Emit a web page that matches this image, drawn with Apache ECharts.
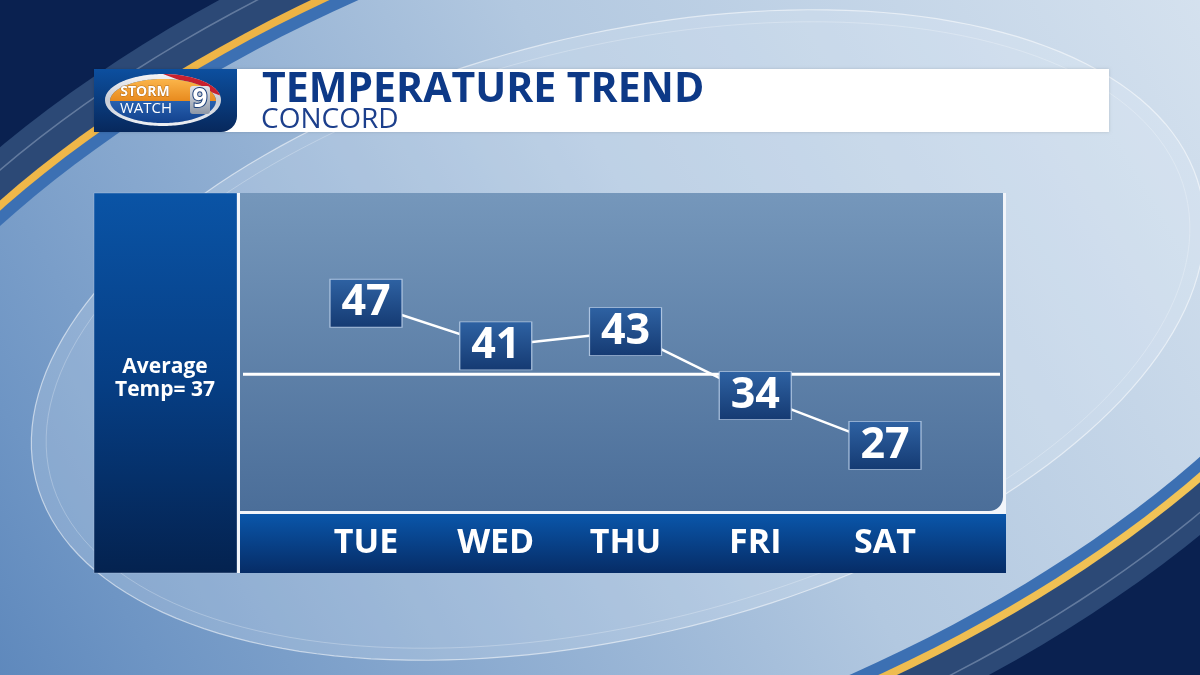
<!DOCTYPE html>
<html>
<head>
<meta charset="utf-8">
<script src="https://cdn.jsdelivr.net/npm/echarts@6/dist/echarts.min.js"></script>
<style>html,body{margin:0;padding:0;background:#0d2450;}#c{width:1200px;height:675px;}</style>
</head>
<body>
<div id="c"></div>
<script>
// ---- data ----
var titleText = 'TEMPERATURE TREND';
var subtitleText = 'CONCORD';
var days = ['TUE', 'WED', 'THU', 'FRI', 'SAT'];
var temps = [47, 41, 43, 34, 27];
var avgTemp = 37;
var avgLabel = 'Average\nTemp= ' + avgTemp;

var FONT = '"Open Sans", "DejaVu Sans", sans-serif';

// decorative ellipse outline helper (background art only)
function ellipsePts(cx, cy, a, b, deg, from, to) {
  var t = deg * Math.PI / 180, pts = [];
  from = from === undefined ? 0 : from; to = to === undefined ? 360 : to;
  for (var i = from; i <= to; i += 2) {
    var p = i * Math.PI / 180;
    var u = a * Math.cos(p), v = b * Math.sin(p);
    pts.push([cx + u * Math.cos(t) - v * Math.sin(t), cy - (u * Math.sin(t) + v * Math.cos(t))]);
  }
  return pts;
}
function ell(cx, cy, a, b, deg, style, z) {
  return { type: 'polygon', z: z, silent: true, shape: { points: ellipsePts(cx, cy, a, b, deg) }, style: style };
}
function lg(x, y, x2, y2, stops) {
  return new echarts.graphic.LinearGradient(x, y, x2, y2, stops.map(function (s) { return { offset: s[0], color: s[1] }; }));
}

var CX = 605, CY = 337, A = 849, B = 425, ROT = 20;

var graphics = [
  { type: 'rect', z: -100, silent: true, shape: { x: 0, y: 0, width: 1200, height: 675 }, style: { fill: '#0a2150' } },
  ell(CX, CY, A + 42, B + 42, ROT, { fill: '#2c4976' }, -99),
  ell(CX, CY, A + 24, B + 24, ROT, { fill: 'none', stroke: 'rgba(200,215,235,0.35)', lineWidth: 1.5 }, -98),
  ell(CX, CY, A, B, ROT, { fill: lg(0, 0, 1, 1, [[0, '#f6c453'], [0.5, '#e6a53a'], [1, '#f9d86a']]) }, -97),
  ell(CX, CY, A - 8, B - 8, ROT, { fill: '#3c70b3' }, -96),
  ell(CX, CY, A - 20, B - 20, ROT, { fill: lg(1, 0, 0, 1, [[0, '#e2ebf4'], [0.45, '#b2c8e0'], [0.8, '#6e95c4'], [1, '#4574b0']]) }, -95),
  ell(618, 335, 600, 300, 14, { fill: 'rgba(230,240,250,0.22)', stroke: 'rgba(255,255,255,0.55)', lineWidth: 1.2 }, -94),
  ell(618, 335, 585, 288, 14, { fill: 'none', stroke: 'rgba(255,255,255,0.25)', lineWidth: 1 }, -94),

  // title banner
  { type: 'rect', z: 1, silent: true, shape: { x: 94, y: 69, width: 1015, height: 63 }, style: { fill: '#ffffff', shadowBlur: 3, shadowColor: 'rgba(0,0,0,0.15)' } },
  { type: 'rect', z: 2, silent: true, shape: { x: 94, y: 69, width: 143, height: 63, r: [0, 0, 16, 0] }, style: { fill: lg(0, 0, 0, 1, [[0, '#0c4f9f'], [1, '#07285c']]) } },
  // logo oval
  ell(163, 100, 58, 26, 0, { fill: lg(0, 0, 0, 1, [[0, '#f4f4f6'], [0.5, '#c7ccd6'], [1, '#eef0f4']]) }, 3),
  { type: 'polygon', z: 3, silent: true, shape: { points: ellipsePts(163, 100, 58, 26, 0, 10, 90) }, style: { fill: '#c8202e' } },
  ell(163, 101, 53, 22, 0, { fill: lg(0, 0, 0, 1, [[0, '#3c7fd0'], [1, '#13428e']]) }, 4),
  { type: 'polygon', z: 5, silent: true, shape: { points: ellipsePts(163, 101, 53, 22, 0, 0, 180) }, style: { fill: lg(0, 0, 0, 1, [[0, '#fbb54a'], [1, '#e88a1e']]) } },
  { type: 'rect', z: 6, silent: true, shape: { x: 190, y: 86, width: 20, height: 28, r: 3 }, style: { fill: lg(0, 0, 0, 1, [[0, '#dfe3ea'], [1, '#8e97a6']]) } },
  { type: 'text', z: 7, silent: true, x: 145, y: 92, style: { text: 'STORM', fill: '#ffffff', font: 'bold 14px ' + FONT, align: 'center', verticalAlign: 'middle', stroke: 'rgba(120,60,0,0.5)', lineWidth: 1 } },
  { type: 'text', z: 7, silent: true, x: 146, y: 109, style: { text: 'WATCH', fill: '#ffffff', font: '15px ' + FONT, align: 'center', verticalAlign: 'middle' } },
  { type: 'text', z: 7, silent: true, x: 200, y: 100, style: { text: '9', fill: '#ffffff', font: 'bold 26px ' + FONT, align: 'center', verticalAlign: 'middle', stroke: '#1b3f7a', lineWidth: 2 } },
  { type: 'text', z: 3, silent: true, x: 262, y: 90, style: { text: titleText, fill: '#0d3987', font: 'bold 41px ' + FONT, align: 'left', verticalAlign: 'middle' } },
  { type: 'text', z: 3, silent: true, x: 261, y: 120, style: { text: subtitleText, fill: '#1c3f8c', font: '28px ' + FONT, align: 'left', verticalAlign: 'middle' } },

  // chart panel
  { type: 'rect', z: -50, silent: true, shape: { x: 94, y: 193, width: 143, height: 380 }, style: { fill: lg(0, 0, 0, 1, [[0, '#0a54a6'], [0.5, '#063e84'], [1, '#04224f']]), stroke: 'rgba(180,200,230,0.4)', lineWidth: 1 } },
  { type: 'rect', z: -50, silent: true, shape: { x: 237, y: 193, width: 769, height: 380 }, style: { fill: '#f2f5fa' } },
  { type: 'rect', z: -49, silent: true, shape: { x: 240, y: 193, width: 763, height: 318, r: [0, 0, 14, 0] }, style: { fill: lg(0, 0, 0, 1, [[0, '#7597bb'], [1, '#4b6e99']]) } },
  { type: 'rect', z: -49, silent: true, shape: { x: 240, y: 514, width: 766, height: 59 }, style: { fill: lg(0, 0, 0, 1, [[0, '#0a56aa'], [1, '#062c66']]) } },
  { type: 'text', z: 3, silent: true, x: 165, y: 379, style: { text: avgLabel, fill: '#ffffff', font: 'bold 21px ' + FONT, align: 'center', verticalAlign: 'middle', lineHeight: 23 } }
];

var chart = echarts.init(document.getElementById('c'), null, { renderer: 'canvas' });
chart.setOption({
  animation: false,
  backgroundColor: 'transparent',
  graphic: graphics,
  grid: [
    { left: 366, right: 315, top: 193, bottom: 162 },
    { left: 243, right: 200, top: 193, bottom: 162 }
  ],
  xAxis: [
    {
      type: 'category', gridIndex: 0, data: days, boundaryGap: false,
      axisLine: { show: false }, axisTick: { show: false }, splitLine: { show: false },
      axisLabel: { color: '#ffffff', fontFamily: FONT, fontWeight: 'bold', fontSize: 34, lineHeight: 34, margin: 13 }
    },
    { type: 'value', gridIndex: 1, min: 0, max: 1, show: false }
  ],
  yAxis: [
    { type: 'value', gridIndex: 0, min: 17.5, max: 62.5, show: false },
    { type: 'value', gridIndex: 1, min: 17.5, max: 62.5, show: false }
  ],
  series: [
    {
      type: 'line', xAxisIndex: 1, yAxisIndex: 1, z: 2, silent: true,
      data: [[0, avgTemp], [1, avgTemp]], showSymbol: false,
      lineStyle: { color: '#ffffff', width: 3 }
    },
    {
      type: 'line', xAxisIndex: 0, yAxisIndex: 0, z: 3, silent: true,
      data: temps,
      lineStyle: { color: '#ffffff', width: 2.5 },
      symbol: 'rect', symbolSize: [72, 48], showSymbol: true,
      itemStyle: { color: lg(0, 0, 0, 1, [[0, '#2e62a3'], [1, '#153a72']]), borderColor: 'rgba(190,210,235,0.85)', borderWidth: 1, opacity: 1 },
      label: { show: true, position: 'inside', color: '#ffffff', fontFamily: FONT, fontWeight: 'bold', fontSize: 43, formatter: '{c}' },
      emphasis: { disabled: true }
    }
  ]
});
</script>
</body>
</html>
